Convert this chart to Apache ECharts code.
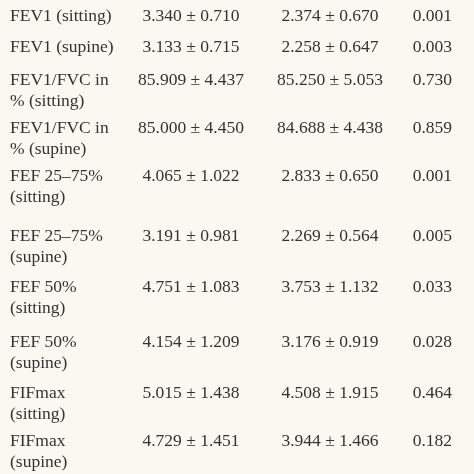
<!DOCTYPE html>
<html><head><meta charset="utf-8">
<script src="https://cdn.jsdelivr.net/npm/echarts@6/dist/echarts.min.js"></script>
<style>html,body{margin:0;padding:0;background:#fbf8f1}#c{width:474px;height:474px}</style>
</head><body><div id="c"></div>
<script>
const labels = [["FEV1 (sitting)"],["FEV1 (supine)"],["FEV1/FVC in","% (sitting)"],["FEV1/FVC in","% (supine)"],["FEF 25–75%","(sitting)"],["FEF 25–75%","(supine)"],["FEF 50%","(sitting)"],["FEF 50%","(supine)"],["FIFmax","(sitting)"],["FIFmax","(supine)"]];
const group1 = ["3.340 ± 0.710","3.133 ± 0.715","85.909 ± 4.437","85.000 ± 4.450","4.065 ± 1.022","3.191 ± 0.981","4.751 ± 1.083","4.154 ± 1.209","5.015 ± 1.438","4.729 ± 1.451"];
const group2 = ["2.374 ± 0.670","2.258 ± 0.647","85.250 ± 5.053","84.688 ± 4.438","2.833 ± 0.650","2.269 ± 0.564","3.753 ± 1.132","3.176 ± 0.919","4.508 ± 1.915","3.944 ± 1.466"];
const pvals = ["0.001","0.003","0.730","0.859","0.001","0.005","0.033","0.028","0.464","0.182"];
const rowY = [16,47,80,128,176,236,287,342,393,441];
const font = {fontFamily:"Liberation Serif", fontSize:17.5, fill:"#333"};
const els = [];
labels.forEach((l,i)=>{
  l.forEach((t,j)=>els.push({type:'text',x:10,y:rowY[i]+j*21,style:Object.assign({text:t,textVerticalAlign:'middle'},font)}));
  els.push({type:'text',x:191,y:rowY[i],style:Object.assign({text:group1[i],textAlign:'center',textVerticalAlign:'middle'},font)});
  els.push({type:'text',x:330,y:rowY[i],style:Object.assign({text:group2[i],textAlign:'center',textVerticalAlign:'middle'},font)});
  els.push({type:'text',x:452,y:rowY[i],style:Object.assign({text:pvals[i],textAlign:'right',textVerticalAlign:'middle'},font)});
});
const chart = echarts.init(document.getElementById('c'));
chart.setOption({backgroundColor:'#fbf8f1',graphic:els});
</script></body></html>
